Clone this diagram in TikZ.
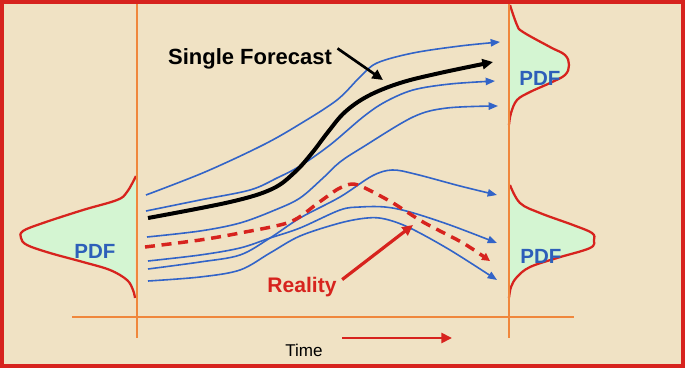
\documentclass[tikz,border=0pt]{standalone}
\usepackage{fontspec}
\setmainfont{Liberation Sans}
\usetikzlibrary{arrows.meta}
\definecolor{parch}{RGB}{240,226,196}
\definecolor{ensblue}{RGB}{50,100,200}
\definecolor{pdfblue}{RGB}{45,95,185}
\definecolor{realred}{RGB}{215,35,30}
\definecolor{axisorange}{RGB}{240,135,60}
\definecolor{pdfgreen}{RGB}{212,245,210}

\begin{document}
\begin{tikzpicture}[x=0.75pt, y=-0.75pt,
  ens/.style={draw=ensblue, line width=1.2pt, -{Triangle[length=7pt,width=5.5pt]}},
  single/.style={draw=black, line width=3pt, -{Triangle[length=8pt,width=7.5pt]}},
  reality/.style={draw=realred, line width=2.6pt, dash pattern=on 7.5pt off 5pt, -{Triangle[length=6pt,width=6pt]}},
  axisline/.style={draw=axisorange, line width=1.3pt},
  pdfcurve/.style={draw=realred, line width=1.7pt, fill=pdfgreen},
  pdflabel/.style={inner sep=0pt, text=pdfblue, font=\fontsize{15.4}{17}\selectfont\bfseries},
  callout/.style={line width=2.4pt, -{Triangle[length=8pt,width=7.5pt]}}
]
  \useasboundingbox (0,0) rectangle (685,368);
  \fill[parch] (0,0) rectangle (685,368);

  \draw[pdfcurve] plot[smooth, tension=0.6] coordinates {(136,176) (127,192) (117,200) (83,210) (43,223) (23,231) (21,238) (27,245) (50,253) (83,262) (110,270) (127,280) (133,290) (135,298)};
  \draw[pdfcurve] plot[smooth, tension=0.6] coordinates {(510,5) (517,25) (523,32) (550,47) (565,55) (569,65) (565,75) (550,83) (530,92) (517,100) (511,113) (509,125)};
  \draw[pdfcurve] plot[smooth, tension=0.6] coordinates {(510,185) (520,203) (540,213) (573,225) (592,233) (594,240) (590,248) (557,258) (530,267) (517,277) (511,287) (509,298)};

  \draw[axisline] (137,3) -- (137,338);
  \draw[axisline] (509,3) -- (509,338);
  \draw[axisline] (72,317) -- (574,317);

  \draw[ens] plot[smooth, tension=0.55] coordinates {(146,195) (205,172) (263,145) (300,124) (337,100) (360,77) (377,63) (413,53) (460,46) (500,42)};
  \draw[ens] plot[smooth, tension=0.55] coordinates {(146,211) (200,200) (250,190) (277,178) (300,166) (330,145) (363,117) (385,102) (413,90) (450,84) (495,81)};
  \draw[ens] plot[smooth, tension=0.55] coordinates {(147,237) (200,231) (240,223) (275,210) (300,198) (323,178) (340,162) (363,147) (413,117) (447,108) (498,106)};
  \draw[ens] plot[smooth, tension=0.55] coordinates {(148,269) (200,262) (240,255) (270,238) (300,218) (340,197) (372,176) (392,170) (415,174) (460,186) (497,195)};
  \draw[ens] plot[smooth, tension=0.55] coordinates {(148,261) (200,255) (240,248) (270,238) (300,228) (340,210) (360,207) (385,207) (410,212) (450,225) (497,243)};
  \draw[ens] plot[smooth, tension=0.55] coordinates {(148,281) (200,277) (240,270) (270,253) (300,236) (340,223) (367,218) (385,219) (410,228) (450,250) (497,280)};
  \draw[single] plot[smooth, tension=0.6] coordinates {(148,218) (230,202) (272,189) (295,172) (312,153) (328,132) (345,112) (368,96) (400,83) (440,73) (493,62)};
  \draw[reality] plot[smooth, tension=0.5] coordinates {(145,247) (200,240) (240,233) (290,222) (318,203) (338,189) (352,184) (365,188) (393,203) (423,222) (463,243) (490,261)};

  \node[pdflabel] (pdfleft) at (95,251) {PDF};
  \node[pdflabel] (pdftop) at (540,78) {PDF};
  \node[pdflabel] (pdfbottom) at (541,256) {PDF};

  \node[inner sep=0pt, font=\fontsize{16.5}{18}\selectfont\bfseries] (single) at (250,59) {Single Forecast};
  \coordinate (singletip) at (383,80);
  \draw[callout, line width=2pt] ([xshift=4pt]single.north east) -- (singletip);

  \node[inner sep=0pt, text=realred, font=\fontsize{15.8}{18}\selectfont\bfseries] (real) at (302,287) {Reality};
  \coordinate (realtip) at (413,225);
  \draw[callout, realred] ([xshift=4pt, yshift=-2pt]real.north east) -- (realtip);

  \node[inner sep=0pt, font=\fontsize{12.8}{15}\selectfont] (time) at (304,350) {Time};
  \coordinate (timestart) at (342,338);
  \coordinate (timeend) at (452,338);
  \draw[callout, realred, line width=2.2pt] (timestart) -- (timeend);

  \draw[realred, line width=3pt] (2,2) rectangle (683,366);
\end{tikzpicture}
\end{document}
